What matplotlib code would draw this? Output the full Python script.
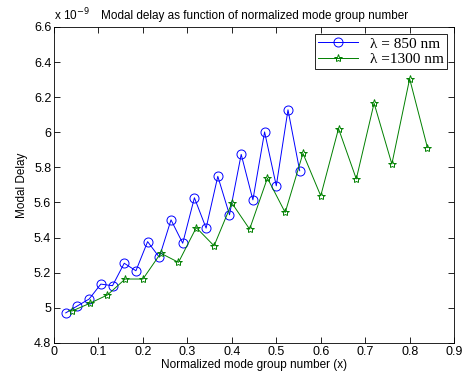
import matplotlib
matplotlib.use('Agg')
import matplotlib.pyplot as plt
from matplotlib.ticker import FuncFormatter

# Modal delay values (units of 1e-9 s)
x_850 = [1/38, 2/38, 3/38, 4/38, 5/38, 6/38, 7/38, 8/38, 9/38, 10/38, 11/38,
         12/38, 13/38, 14/38, 15/38, 16/38, 17/38, 18/38, 19/38, 20/38, 21/38]
delay_850 = [4.971, 5.011, 5.050, 5.135, 5.126, 5.254, 5.211, 5.377, 5.288, 5.501, 5.368,
             5.627, 5.454, 5.749, 5.530, 5.874, 5.615, 6.002, 5.695, 6.128, 5.781]

x_1300 = [0.04, 0.08, 0.12, 0.16, 0.20, 0.24, 0.28, 0.32, 0.36, 0.40, 0.44,
          0.48, 0.52, 0.56, 0.60, 0.64, 0.68, 0.72, 0.76, 0.80, 0.84]
delay_1300 = [4.981, 5.025, 5.073, 5.164, 5.164, 5.311, 5.259, 5.457, 5.353, 5.597, 5.448,
              5.739, 5.543, 5.880, 5.638, 6.021, 5.734, 6.166, 5.819, 6.305, 5.913]

x_ticks = [0, 0.1, 0.2, 0.3, 0.4, 0.5, 0.6, 0.7, 0.8, 0.9]
y_ticks = [4.8, 5.0, 5.2, 5.4, 5.6, 5.8, 6.0, 6.2, 6.4, 6.6]

plt.rcParams['font.family'] = ['Liberation Sans', 'DejaVu Sans']
plt.rcParams['font.size'] = 8

fig = plt.figure(figsize=(4.74, 3.91), dpi=100)
ax = fig.add_axes([0.114, 0.123, 0.844, 0.808])

ax.plot(x_850, delay_850, color='#0000ff', lw=0.7, marker='o', ms=6.5,
        mfc='none', mec='#0000ff', mew=0.7, label='λ = 850 nm')
ax.plot(x_1300, delay_1300, color='#008000', lw=0.7, marker='*', ms=6,
        mfc='none', mec='#008000', mew=0.7, label='λ =1300 nm')

ax.set_xlim(0, 0.9)
ax.set_ylim(4.8, 6.6)
ax.set_xticks(x_ticks)
ax.set_yticks(y_ticks)
ax.yaxis.set_major_formatter(FuncFormatter(lambda v, p: '%g' % round(v, 1)))
ax.xaxis.set_major_formatter(FuncFormatter(lambda v, p: '%g' % round(v, 1)))
ax.tick_params(direction='in', top=True, right=True, length=4, width=0.6,
               labelsize=9, pad=2)
for s in ax.spines.values():
    s.set_linewidth(0.6)

ax.set_xlabel('Normalized mode group number (x)', fontsize=8.5, labelpad=1)
ax.set_ylabel('Modal Delay', fontsize=8.5, labelpad=4)
ax.set_title('Modal delay as function of normalized mode group number',
             fontsize=8.5, pad=6)
ax.text(0.0, 1.012, r'x 10$^{-9}$', transform=ax.transAxes, fontsize=8.5,
        ha='left', va='bottom')

leg = ax.legend(loc='upper right', bbox_to_anchor=(0.983, 0.978), fancybox=False,
                edgecolor='black', framealpha=1, borderpad=0.2, labelspacing=0.1,
                handlelength=2.6, numpoints=1, handletextpad=0.8, borderaxespad=0,
                prop={'family': 'Liberation Serif', 'size': 11})
leg.get_frame().set_linewidth(0.6)

fig.savefig('out.png', dpi=100, facecolor='white')
